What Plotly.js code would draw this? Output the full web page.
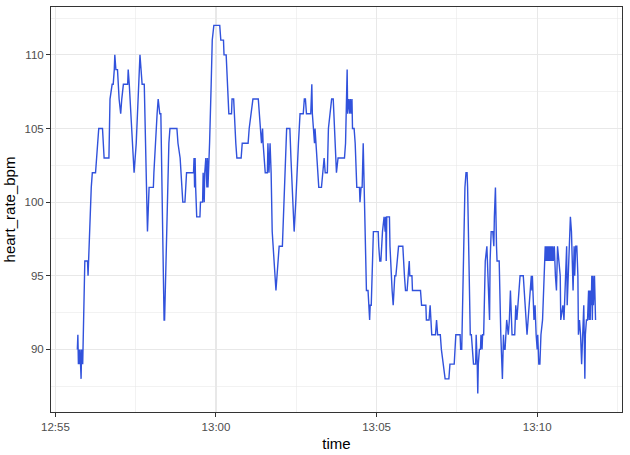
<!DOCTYPE html>
<html>
<head>
<meta charset="utf-8">
<script src="https://cdn.plot.ly/plotly-3.0.1.min.js"></script>
<style>html,body{margin:0;padding:0;background:#fff}#chart{width:630px;height:455px}</style>
</head>
<body>
<div id="chart"></div>
<script>
// Recording start reference clock and date
const dayString = "2024-01-01";
const clockStart = "12:55:00";

// Elapsed seconds after 12:55:00 for each heart-rate reading
const elapsedSec = [
41,42,43,44,45,46,47,48,49,50,51,55,60,61,62,65,67,69,75,77,79,81,88,89,91,100,102,106,108,110,111,113,116,119,122,124,127,135,136,138,141,144,146,147,151,153,155,156,158,160,162,166,172,175,183,184,185,187,190,192,195,197,203,204,212,214,227,229,233,235,237,238,242,243,244,245,258,259,260,261,262,264,270,271,275,276,278,279,281,283,284,285,288,289,291,293,296,307,309,314,315,319,322,324,329,330,333,334,337,339,347,349,360,362,365,369,379,381,383,385,387,388,392,396,397,399,401,403,405,409,411,412,414,416,418,424,428,431,432,438,440,443,446,449,451,454,457,463,465,467,469,477,479,480,482,484,485,488,490,492,497,499,500,502,504,506,508,510,516,519,521,525,528,540,542,543,545,546,548,550,551,553,554,555,558,560,563,568,569,571,573,575,577,581,584,586,587,588,590,594,603,604,606,608,610,611,614,616,617,618,619,624,625,627,629,631,634,636,638,641,649,650,652,654,657,659,661,662,666,667,682,684,692,693,698,700,701,703,710,712,714,719,721,724,728,735,737,745,746,748,756,757,759,761,764,765,767,769,770,772,775,777,779,781,785,786,788,789,790,792,794,795,797,798,800,801,803,806,807,809,811,812,814,817,819,820,822,824,825,829,830,832,835,837,838,840,843,846,848,850,851,853,858,860,862,864,866,868,874,877,879,881,883,885,887,889,890,891,894,896,898,900,901,903,905,907,910,914,915,916,917,918,919,920,921,922,923,924,925,926,927,928,929,930,932,934,936,938,941,943,944,947,948,950,952,953,955,956,960,961,962,964,965,967,969,970,972,974,976,977,979,981,983,985,987,989,990,992,994,995,996,997,998,999,1000,1001,1002,1003,1004,1005,1007,1009
];

// Heart rate (bpm) at each reading
const heartRateBpm = [
90,91,89,90,89,90,89,88,90,89,89,96,96,95,96,100,101,102,102,103,104,105,105,104,103,103,107,108,108,109,110,109,109,107,106,107,108,108,109,108,106,104,103,102,104,106,108,109,110,109,108,108,98,101,101,102,103,104,106,107,106,106,92,92,104,105,105,104,103,102,101,100,100,101,101,102,102,103,101,103,101,99,99,100,100,102,100,102,103,101,103,101,104,106,108,111,112,112,111,111,110,110,107,106,106,107,107,106,104,103,103,104,104,105,106,107,107,106,105,104,105,104,102,102,104,102,104,102,98,96,95,94,95,96,97,97,102,104,105,105,103,100,98,100,102,104,106,106,107,107,106,106,108,106,105,104,105,103,102,101,101,102,102,103,102,102,102,105,107,107,105,102,103,103,104,106,109,106,107,106,107,106,107,105,105,104,101,101,100,101,101,104,100,94,94,92,92,93,93,98,98,97,96,96,98,98,99,98,99,96,99,99,97,95,94,93,95,95,96,97,97,96,95,94,94,95,96,95,95,94,94,93,93,92,92,93,92,91,91,92,91,91,90,89,88,88,89,89,90,91,91,90,90,94,100,101,102,102,101,97,91,91,90,89,89,91,89,87,89,90,90,91,90,91,91,94,96,97,96,94,92,96,98,98,97,99,101,97,96,96,94,91,88,91,90,90,92,91,92,94,93,91,91,93,92,93,94,95,95,93,92,91,92,93,94,95,94,95,92,93,91,90,91,89,89,91,92,97,97,96,97,96,97,96,97,96,97,96,97,96,97,96,97,96,97,95,94,97,96,95,92,93,93,92,94,94,97,93,98,98,99,98,96,94,97,95,97,97,95,91,92,91,89,92,93,88,91,92,92,93,94,92,94,92,94,93,95,92,95,93,95,92,95,96,97
];

// Axis tick labels / ranges
const xTickFormat = "%H:%M";
const yTickValues = [90, 95, 100, 105, 110];
const yMinorValues = [87.5, 92.5, 97.5, 102.5, 107.5, 112.5];
const xMinorSec = [150, 750, 1050];   // 12:57:30, 13:07:30, 13:12:30 minor grid
const xMinorSec2 = [450];             // 13:02:30

function clockAt(sec) {
  const p = clockStart.split(":").map(Number);
  let t = p[0] * 3600 + p[1] * 60 + p[2] + sec;
  const h = Math.floor(t / 3600), m = Math.floor((t % 3600) / 60), s = t % 60;
  const pad = n => String(Math.floor(n)).padStart(2, "0");
  const frac = (t % 1) ? ("." + String(Math.round((t % 1) * 1000)).padStart(3, "0")) : "";
  return dayString + " " + pad(h) + ":" + pad(m) + ":" + pad(s) + frac;
}

const xs = elapsedSec.map(clockAt);

const trace = {
  x: xs, y: heartRateBpm, type: "scatter", mode: "lines",
  line: {color: "#3152DC", width: 1.4}, hoverinfo: "skip"
};

const grid = "#E8E8E8";
const tickFont = {family: "Liberation Sans, Arial, sans-serif", size: 11.5, color: "#4D4D4D"};
const titleFont = {family: "Liberation Sans, Arial, sans-serif", size: 15, color: "#000000"};

const layout = {
  width: 630, height: 455,
  margin: {l: 51, r: 8, t: 7, b: 43, pad: 0},
  paper_bgcolor: "#FFFFFF", plot_bgcolor: "#FFFFFF",
  showlegend: false,
  xaxis: {
    type: "date",
    range: [clockAt(-8.2), clockAt(1058.4)],
    tickformat: xTickFormat,
    tick0: clockAt(0), dtick: 300000,
    ticks: "outside", ticklen: 4, tickwidth: 1, tickcolor: "#333333",
    showgrid: true, gridcolor: grid, gridwidth: 1.1,
    minor: {tickmode: "array", tickvals: xMinorSec.concat(xMinorSec2).sort((a, b) => a - b).map(clockAt), showgrid: true, gridcolor: grid, gridwidth: 0.55, ticks: ""},
    zeroline: false, showline: true, mirror: true, linecolor: "#333333", linewidth: 1,
    tickfont: tickFont,
    title: {text: "time", font: titleFont, standoff: 6}
  },
  yaxis: {
    range: [85.75, 113.25],
    tickvals: yTickValues,
    ticktext: yTickValues.map(String),
    ticks: "outside", ticklen: 4, tickwidth: 1, tickcolor: "#333333",
    showgrid: true, gridcolor: grid, gridwidth: 1.1,
    minor: {tickvals: yMinorValues, showgrid: true, gridcolor: grid, gridwidth: 0.55, ticks: ""},
    zeroline: false, showline: true, mirror: true, linecolor: "#333333", linewidth: 1,
    tickfont: tickFont,
    title: {text: "heart_rate_bpm", font: titleFont, standoff: 5}
  }
};

Plotly.newPlot("chart", [trace], layout, {displayModeBar: false, staticPlot: true});
</script>
</body>
</html>
